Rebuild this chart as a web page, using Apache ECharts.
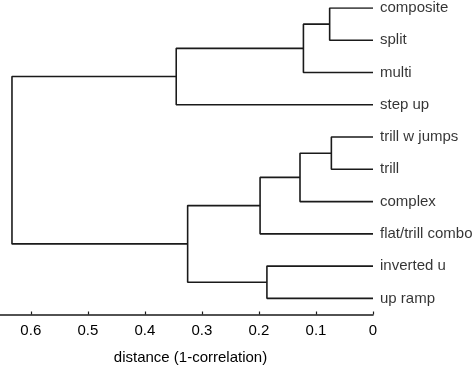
<!DOCTYPE html>
<html>
<head>
<meta charset="utf-8">
<script src="https://cdn.jsdelivr.net/npm/echarts@6/dist/echarts.min.js"></script>
<style>html,body{margin:0;padding:0;background:#fff;}#c{width:474px;height:366px;}</style>
</head>
<body>
<div id="c"></div>
<script>
// Leaves, top to bottom
var leaves = ['composite','split','multi','step up','trill w jumps','trill','complex','flat/trill combo','inverted u','up ramp'];
// Linkage: node 10+i joins linkLeft[i] and linkRight[i] at linkHeight[i]
var linkLeft   = [4, 0, 11, 10, 8, 13, 15, 12, 17];
var linkRight  = [5, 1, 2, 6, 9, 7, 14, 3, 16];
var linkHeight = [0.073, 0.076, 0.122, 0.128, 0.186, 0.198, 0.325, 0.345, 0.633];
// Axis ticks
var tickValues = [0, 0.1, 0.2, 0.3, 0.4, 0.5, 0.6];
var axisTitle = 'distance (1-correlation)';

var FONT = '"Liberation Sans", Arial, Helvetica, sans-serif';
var LINE = '#1a1a1a';

var nodeX = [], nodeY = [];
for (var i = 0; i < leaves.length; i++) { nodeX[i] = 0; nodeY[i] = i; }
var series = [];
for (var k = 0; k < linkHeight.length; k++) {
  var a = linkLeft[k], b = linkRight[k], h = linkHeight[k];
  var id = leaves.length + k;
  nodeX[id] = h;
  nodeY[id] = (nodeY[a] + nodeY[b]) / 2;
  series.push({
    type: 'line',
    data: [[nodeX[a], nodeY[a]], [h, nodeY[a]], [h, nodeY[b]], [nodeX[b], nodeY[b]]],
    showSymbol: false,
    symbol: 'none',
    lineStyle: { color: LINE, width: 1.6 },
    silent: true,
    animation: false
  });
}
series.push({
  type: 'scatter',
  symbolSize: 0,
  data: leaves.map(function (n, i) { return [0, i, n]; }),
  label: {
    show: true, position: 'right', distance: 7,
    formatter: function (p) { return p.data[2]; },
    color: '#000', fontSize: 15, fontFamily: FONT
  },
  silent: true,
  animation: false,
  clip: false
});

var chart = echarts.init(document.getElementById('c'), null, { renderer: 'canvas' });
chart.setOption({
  backgroundColor: '#fff',
  animation: false,
  grid: { left: 0, right: 101, top: 8, bottom: 51.5, containLabel: false, outerBoundsMode: 'none' },
  xAxis: {
    type: 'value', inverse: true, min: 0, max: 0.654,
    splitLine: { show: false },
    axisLine: { show: true, onZero: false, lineStyle: { color: LINE, width: 1.6 } },
    axisTick: { show: true, inside: true, length: 3, customValues: tickValues, lineStyle: { color: LINE, width: 1.2 } },
    axisLabel: { customValues: tickValues, margin: 9, color: '#000', fontSize: 15, fontFamily: FONT,
      formatter: function (v) { return String(Math.round(v * 10) / 10); } },
    name: axisTitle, nameLocation: 'middle', nameGap: 36,
    nameTextStyle: { color: '#000', fontSize: 15, fontFamily: FONT, padding: [0, 0, 0, 8] }
  },
  yAxis: {
    type: 'value', inverse: true, min: 0, max: 9.5, show: false
  },
  series: series
});
</script>
</body>
</html>
